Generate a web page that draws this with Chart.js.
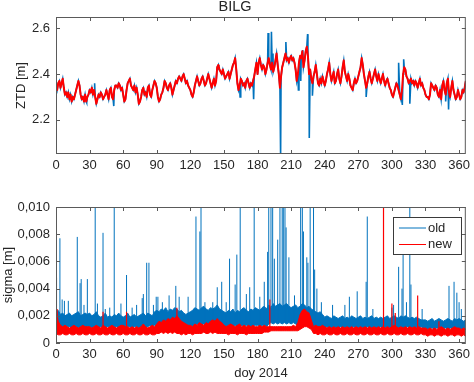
<!DOCTYPE html>
<html>
<head>
<meta charset="utf-8">
<script src="https://cdn.jsdelivr.net/npm/chart.js@4.4.1/dist/chart.umd.min.js"></script>
<style>
  html, body { margin: 0; padding: 0; background: #fff; }
  canvas { display: block; }
</style>
</head>
<body>
<canvas id="ztd" width="474" height="190"></canvas>
<canvas id="sigma" width="474" height="192"></canvas>
<script>
// ---- data ----
const stationName = 'BILG';
const seriesNames = ['old', 'new'];
const seriesColors = ['#0072BD', '#FF0000'];
const xTicks = [0, 30, 60, 90, 120, 150, 180, 210, 240, 270, 300, 330, 360];
const ztdTicks = [2.2, 2.4, 2.6];
const sigmaTicks = [0, 0.002, 0.004, 0.006, 0.008, 0.010];
const sigmaTickLabels = ['0', '0,002', '0,004', '0,006', '0,008', '0,010'];

// ZTD [m], new solution, one value per doy 0..366
const ztdNew = [
  2.35,2.33,2.36,2.37,2.34,2.36,2.38,2.34,2.31,2.32,2.30,2.32,2.29,2.31,2.28,2.30,2.29,2.31,2.33,2.35,2.37,2.35,2.31,2.29,2.30,2.28,2.31,2.28,2.30,2.31,
  2.33,2.32,2.34,2.31,2.33,2.30,2.27,2.29,2.31,2.30,2.32,2.31,2.29,2.30,2.31,2.33,2.31,2.29,2.33,2.34,2.30,2.29,2.33,2.35,2.35,2.34,2.36,2.35,2.33,2.34,
  2.31,2.28,2.29,2.33,2.36,2.37,2.38,2.35,2.34,2.33,2.35,2.32,2.34,2.31,2.27,2.28,2.30,2.33,2.34,2.31,2.32,2.30,2.34,2.35,2.31,2.30,2.33,2.35,2.37,2.36,
  2.34,2.30,2.28,2.29,2.31,2.32,2.34,2.37,2.36,2.34,2.33,2.35,2.36,2.34,2.31,2.33,2.35,2.37,2.36,2.38,2.39,2.38,2.37,2.39,2.40,2.38,2.36,2.37,2.35,2.34,
  2.33,2.31,2.30,2.32,2.35,2.37,2.39,2.37,2.35,2.36,2.38,2.39,2.37,2.35,2.36,2.38,2.40,2.38,2.36,2.34,2.36,2.38,2.35,2.37,2.43,2.44,2.42,2.41,2.40,2.42,
  2.40,2.38,2.39,2.40,2.41,2.38,2.40,2.42,2.44,2.45,2.47,2.42,2.36,2.33,2.35,2.38,2.37,2.35,2.36,2.34,2.37,2.38,2.36,2.34,2.36,2.35,2.37,2.39,2.42,2.45,
  2.40,2.45,2.47,2.44,2.42,2.44,2.43,2.40,2.42,2.45,2.47,2.44,2.42,2.45,2.41,2.43,2.46,2.49,2.44,2.40,2.34,2.39,2.43,2.45,2.47,2.49,2.46,2.47,2.45,2.47,
  2.48,2.46,2.47,2.45,2.42,2.37,2.40,2.45,2.48,2.47,2.50,2.43,2.46,2.50,2.52,2.48,2.40,2.42,2.38,2.36,2.39,2.41,2.44,2.40,2.36,2.35,2.38,2.36,2.39,2.37,
  2.35,2.37,2.40,2.42,2.45,2.40,2.37,2.39,2.41,2.36,2.37,2.40,2.42,2.38,2.36,2.39,2.43,2.46,2.41,2.39,2.37,2.40,2.38,2.35,2.34,2.33,2.36,2.38,2.36,2.37,
  2.39,2.41,2.43,2.47,2.44,2.40,2.37,2.34,2.36,2.39,2.41,2.38,2.36,2.38,2.40,2.42,2.39,2.37,2.40,2.38,2.36,2.38,2.40,2.37,2.35,2.37,2.38,2.36,2.34,2.33,
  2.31,2.30,2.32,2.34,2.36,2.35,2.33,2.31,2.29,2.33,2.40,2.43,2.42,2.39,2.38,2.36,2.37,2.38,2.36,2.37,2.35,2.37,2.36,2.34,2.36,2.38,2.35,2.36,2.34,2.33,
  2.31,2.30,2.30,2.29,2.31,2.36,2.35,2.34,2.33,2.35,2.34,2.31,2.30,2.33,2.29,2.35,2.37,2.33,2.31,2.36,2.38,2.32,2.30,2.34,2.37,2.33,2.31,2.29,2.30,2.33,
  2.31,2.29,2.30,2.33,2.32,2.34,2.37
];
// ZTD [m], old solution: where it departs from the new one [doy, value]
const ztdOldOutliers = [
  [27.4, 2.275], [34.5, 2.36], [51.6, 2.26], [145.5, 2.42], [164.4, 2.30], [176.5, 2.29],
  [189.4, 2.58], [192.4, 2.585], [193.8, 2.49], [200.6, 2.04], [205.3, 2.54], [216.5, 2.33],
  [218.6, 2.37], [220.4, 2.505], [224.7, 2.575], [226.2, 2.12], [229.0, 2.305], [277.0, 2.30],
  [306.0, 2.45], [309.3, 2.265], [310.5, 2.465], [316.0, 2.27], [348.0, 2.28], [350.6, 2.245]
];

// sigma [mm], band of the dense series sampled every 2 days (doy 0..366)
const sigmaStep = 2;
const sigmaOldHi = [
  2.3,2.4,2.1,2.2,2.0,2.1,2.2,2.0,2.1,2.2,2.3,2.0,2.1,2.2,2.1,
  2.2,2.0,2.1,2.3,2.0,1.9,2.0,2.2,1.9,2.0,1.9,2.1,2.0,2.2,2.0,
  1.9,2.0,2.2,1.9,2.0,2.1,1.9,2.0,2.1,2.2,2.0,2.2,2.1,2.0,2.3,
  2.4,2.3,2.5,2.4,2.6,2.3,2.5,2.4,2.6,2.5,2.3,2.4,2.2,2.1,2.2,
  2.3,2.4,2.6,2.5,2.4,2.6,2.7,2.5,2.4,2.6,2.5,2.6,2.8,2.5,2.4,
  2.3,2.2,2.4,2.3,2.5,2.2,2.4,2.3,2.5,2.6,2.4,2.3,2.5,2.4,2.6,
  2.5,2.4,2.6,2.7,2.5,2.8,2.6,2.9,2.7,2.8,2.9,2.7,2.8,2.9,2.7,
  2.6,2.7,2.8,2.6,2.7,2.9,2.8,2.6,2.7,2.5,2.4,2.3,2.2,2.3,2.1,
  1.9,2.0,1.9,1.8,2.0,1.9,1.8,1.9,2.0,1.8,1.9,1.8,2.0,1.9,1.8,
  1.9,2.0,1.8,1.9,1.8,1.9,2.0,1.8,1.9,1.8,1.9,1.8,1.9,2.0,1.8,
  1.9,2.0,1.9,1.8,2.0,1.9,2.0,1.9,1.8,1.9,1.8,1.9,1.8,1.7,1.7,
  1.7,1.6,1.7,1.8,1.6,1.7,1.8,1.7,1.6,1.7,1.8,1.7,1.6,1.8,1.7,
  1.8,1.7,1.6,1.7
];
const sigmaOldLo = [
  1.2,1.1,1.2,1.2,1.1,1.2,1.2,1.1,1.2,1.2,1.1,1.2,1.2,1.1,1.2,
  1.2,1.1,1.2,1.2,1.1,1.2,1.2,1.1,1.2,1.2,1.1,1.2,1.2,1.1,1.2,
  1.2,1.1,1.2,1.2,1.1,1.2,1.2,1.1,1.2,1.2,1.1,1.2,1.3,1.2,1.3,
  1.3,1.4,1.3,1.4,1.3,1.4,1.3,1.4,1.3,1.2,1.3,1.2,1.2,1.3,1.2,
  1.3,1.2,1.3,1.4,1.3,1.3,1.4,1.3,1.3,1.4,1.3,1.4,1.4,1.3,1.3,
  1.2,1.2,1.3,1.2,1.2,1.3,1.2,1.2,1.3,1.2,1.3,1.2,1.2,1.3,1.3,
  1.3,1.2,1.3,1.3,1.2,1.4,1.5,1.4,1.5,1.4,1.5,1.4,1.5,1.4,1.5,
  1.4,1.5,1.4,1.3,1.3,1.4,1.3,1.3,1.2,1.3,1.2,1.2,1.1,1.2,1.1,
  1.1,1.2,1.1,1.1,1.2,1.1,1.1,1.2,1.1,1.1,1.2,1.1,1.1,1.2,1.1,
  1.1,1.2,1.1,1.1,1.2,1.1,1.1,1.2,1.1,1.1,1.2,1.1,1.1,1.2,1.1,
  1.1,1.2,1.1,1.1,1.2,1.1,1.1,1.2,1.1,1.1,1.2,1.1,1.1,1.2,1.1,
  1.1,1.0,1.1,1.1,1.0,1.1,1.1,1.0,1.1,1.1,1.0,1.1,1.1,1.0,1.1,
  1.1,1.0,1.1,1.0
];
const sigmaNewHi = [
  2.5,1.6,1.3,1.2,1.3,1.2,1.1,1.2,1.3,1.2,1.1,1.2,1.3,1.2,1.2,
  1.2,1.1,1.2,1.3,1.2,1.1,1.3,1.2,1.1,1.2,1.3,1.2,1.1,1.2,1.3,
  1.3,1.2,1.2,1.1,1.2,1.1,1.2,1.1,1.2,1.4,1.2,1.1,1.2,1.3,1.2,
  1.4,1.6,1.5,1.7,1.6,1.8,1.7,1.9,1.8,2.0,1.8,1.6,1.5,1.4,1.3,
  1.3,1.2,1.4,1.3,1.5,1.4,1.3,1.5,1.4,1.6,1.7,1.6,1.8,1.6,1.5,
  1.3,1.2,1.3,1.4,1.3,1.2,1.3,1.4,1.2,1.3,1.2,1.3,1.2,1.3,1.2,
  1.2,1.3,1.2,1.3,1.2,1.2,1.2,1.2,1.2,1.2,1.2,1.2,1.2,1.2,1.2,
  1.2,1.3,1.2,1.5,2.1,2.4,2.5,2.3,2.2,1.7,1.2,1.3,1.2,1.2,1.3,
  1.2,1.1,1.2,1.1,1.2,1.1,1.2,1.1,1.2,1.1,1.2,1.1,1.2,1.1,1.2,
  1.1,1.2,1.1,1.2,1.1,1.2,1.1,1.2,1.1,1.2,1.1,1.2,1.1,1.2,1.1,
  1.2,1.3,1.2,1.1,1.2,1.1,1.2,1.1,1.2,1.1,1.2,1.1,1.2,1.1,1.1,
  1.1,1.0,1.1,1.0,1.1,1.0,1.1,1.2,1.1,1.0,1.1,1.0,1.1,1.2,1.1,
  1.1,1.0,1.1,1.0
];
const sigmaNewLo = [
  0.7,0.6,0.6,0.7,0.6,0.6,0.7,0.6,0.6,0.7,0.6,0.6,0.7,0.6,0.6,
  0.7,0.6,0.6,0.7,0.6,0.6,0.7,0.6,0.6,0.7,0.6,0.6,0.7,0.6,0.6,
  0.7,0.6,0.6,0.7,0.6,0.6,0.7,0.6,0.6,0.7,0.6,0.6,0.7,0.6,0.6,
  0.7,0.7,0.8,0.7,0.8,0.7,0.8,0.7,0.8,0.7,0.7,0.6,0.7,0.6,0.7,
  0.7,0.6,0.7,0.7,0.7,0.7,0.8,0.7,0.7,0.8,0.7,0.8,0.7,0.7,0.7,
  0.7,0.7,0.6,0.7,0.7,0.7,0.6,0.7,0.7,0.7,0.6,0.7,0.7,0.7,0.7,
  0.7,0.7,0.7,0.8,0.8,0.8,0.9,0.9,0.9,0.9,0.9,0.9,0.9,0.9,0.9,
  0.9,0.9,0.9,0.9,1.0,1.1,1.2,1.2,1.1,1.0,0.7,0.7,0.6,0.7,0.6,
  0.6,0.7,0.6,0.6,0.7,0.6,0.6,0.7,0.6,0.6,0.7,0.6,0.6,0.7,0.6,
  0.6,0.7,0.6,0.6,0.7,0.6,0.6,0.7,0.6,0.6,0.7,0.6,0.6,0.7,0.6,
  0.6,0.7,0.6,0.6,0.7,0.6,0.6,0.7,0.6,0.6,0.7,0.6,0.6,0.7,0.6,
  0.6,0.5,0.6,0.6,0.5,0.6,0.6,0.5,0.6,0.6,0.5,0.6,0.6,0.5,0.6,
  0.6,0.5,0.6,0.5
];
// isolated peaks [doy, sigma mm]
const sigmaOldPeaks = [
  [0.5,4.8],[3.5,7.7],[5.5,3.2],[7.5,3.1],[11,3.1],[19,7.8],[21.5,4.4],[22.5,4.7],[25,2.8],[28,4.7],
  [35,10.5],[37,2.9],[42,8.1],[44,2.5],[48,2.6],[52,10.5],[58,2.9],[63,5.0],[68,2.6],[72,2.8],
  [77,3.3],[78,3.6],[81,5.9],[83,5.9],[87,2.8],[89.5,3.4],[91,3.4],[95,3.0],[101,3.5],[107,4.2],
  [110,3.4],[118,3.4],[125,9.3],[128.5,8.2],[129.5,10.5],[133,3.0],[140,3.0],[144,4.1],[148,4.5],[152,3.0],
  [155,6.2],[160,4.3],[161.5,6.5],[164.5,10.5],[170,3.6],[173,4.1],[177,10.5],[182,3.4],[186,4.5],[189,6.7],
  [190,10.5],[192,10.5],[193.5,10.5],[195,6.2],[198,7.6],[200,10.5],[202,10.5],[203,10.5],[204.5,10.5],[205.5,8.5],
  [208,6.3],[213,3.5],[218.5,10.5],[220,10.5],[221,8.2],[224,6.3],[225,5.9],[227,10.5],[230,10.5],[231,5.4],
  [233,4.0],[237,3.0],[247,2.8],[258,2.8],[262,3.4],[269,3.8],[277,4.5],[278,9.3],[283,2.5],[300,2.6],
  [301.5,2.8],[306,5.6],[309,4.0],[310,6.6],[313,3.0],[316,10.5],[317,4.3],[327,2.5],[351,4.2],[355.5,4.5],
  [358,3.7],[360,3.0],[362,2.5]
];
const sigmaNewPeaks = [
  [0,4.0],[1,2.5],[42,2.3],[63,2.3],[108,2.6],[191,3.2],[292.5,10.5],[300,2.9],[303,2.2],[323,3.5],[342,1.6]
];

// ---- drawing ----
Chart.defaults.font.family = '"Liberation Sans", Arial, Helvetica, sans-serif';
Chart.defaults.font.size = 13;
Chart.defaults.color = '#262626';

const boxTicks = {
  id: 'boxTicks',
  afterDraw(chart) {
    const { ctx, chartArea: a, scales: { x, y } } = chart;
    ctx.save();
    ctx.strokeStyle = '#5a5a5a';
    ctx.lineWidth = 1;
    ctx.beginPath();
    x.ticks.forEach(t => {
      const px = Math.round(x.getPixelForValue(t.value)) + 0.5;
      ctx.moveTo(px, a.bottom); ctx.lineTo(px, a.bottom - 4);
      ctx.moveTo(px, a.top); ctx.lineTo(px, a.top + 4);
    });
    y.ticks.forEach(t => {
      const py = Math.round(y.getPixelForValue(t.value)) + 0.5;
      ctx.moveTo(a.left, py); ctx.lineTo(a.left + 4, py);
      ctx.moveTo(a.right, py); ctx.lineTo(a.right - 4, py);
    });
    ctx.stroke();
    ctx.strokeRect(a.left + 0.5, a.top + 0.5, a.right - a.left - 1, a.bottom - a.top - 1);
    ctx.restore();
  }
};

const legendBox = {
  id: 'legendBox',
  afterDraw(chart) {
    const { ctx, chartArea: a } = chart;
    const x0 = Math.round(a.right - 73), y0 = Math.round(a.top + 10), w = 68, h = 37;
    ctx.save();
    ctx.fillStyle = '#fff';
    ctx.fillRect(x0, y0, w, h);
    ctx.strokeStyle = '#3a3a3a';
    ctx.lineWidth = 1;
    ctx.strokeRect(x0 + 0.5, y0 + 0.5, w, h);
    ctx.font = '13px "Liberation Sans", Arial, sans-serif';
    ctx.textBaseline = 'middle';
    seriesNames.forEach((name, i) => {
      const ly = y0 + 11 + i * 16.5;
      ctx.strokeStyle = seriesColors[i];
      ctx.beginPath(); ctx.moveTo(x0 + 6, ly); ctx.lineTo(x0 + 33, ly); ctx.stroke();
      ctx.fillStyle = '#262626';
      ctx.fillText(name, x0 + 35, ly);
    });
    ctx.restore();
  }
};

function xScale(height, title) {
  return {
    type: 'linear', min: 0, max: 366,
    afterBuildTicks: s => { s.ticks = xTicks.map(v => ({ value: v })); },
    afterFit: s => { s.height = height; },
    ticks: { padding: 4, maxRotation: 0, autoSkip: false, font: { size: 13 } },
    grid: { display: false, drawTicks: false },
    border: { display: false },
    title: title ? { display: true, text: title, font: { size: 13 }, padding: { top: 0, bottom: 1 } } : { display: false }
  };
}

const common = {
  responsive: false,
  animation: false,
  events: [],
  elements: { point: { radius: 0 }, line: { tension: 0 } },
  plugins: { legend: { display: false }, tooltip: { enabled: false } }
};

const ztdNewPts = ztdNew.map((v, i) => ({ x: i, y: v }));
const ztdOldPts = ztdNewPts.concat(ztdOldOutliers.map(([d, v]) => ({ x: d, y: v })))
  .sort((p, q) => p.x - q.x);

new Chart(document.getElementById('ztd'), {
  type: 'line',
  data: {
    datasets: [
      { label: seriesNames[1], data: ztdNewPts, borderColor: seriesColors[1], borderWidth: 2, borderJoinStyle: 'round', order: 0, clip: 0 },
      { label: seriesNames[0], data: ztdOldPts, borderColor: seriesColors[0], borderWidth: 1.6, order: 1, clip: 0 }
    ]
  },
  options: {
    ...common,
    layout: { padding: { left: 0, right: 4, top: 0, bottom: 0 } },
    plugins: {
      ...common.plugins,
      title: { display: true, text: stationName, color: '#262626', font: { size: 14.5, weight: 'normal', lineHeight: 1 }, padding: { top: 0, bottom: 2.5 } }
    },
    scales: {
      x: xScale(36),
      y: {
        type: 'linear', min: 2.05, max: 2.65,
        afterBuildTicks: s => { s.ticks = ztdTicks.map(v => ({ value: v })); },
        afterFit: s => { s.width = 56; },
        ticks: { padding: 6, callback: v => v.toFixed(1) },
        grid: { display: false, drawTicks: false },
        border: { display: false },
        title: { display: true, text: 'ZTD [m]', font: { size: 13 }, padding: { top: 14 } }
      }
    }
  },
  plugins: [boxTicks]
});

const mm = v => v / 1000;
const band = arr => arr.map((v, i) => ({ x: i * sigmaStep, y: mm(v) }));
const peaks = (list, from) => list.flatMap(([d, v]) => [{ x: d, y: mm(from) }, { x: d, y: mm(v) }, { x: d, y: null }]);

new Chart(document.getElementById('sigma'), {
  type: 'line',
  data: {
    datasets: [
      { label: seriesNames[0], data: band(sigmaOldHi), borderColor: seriesColors[0], backgroundColor: seriesColors[0], borderWidth: 1, fill: '+1', order: 3, clip: 0 },
      { data: band(sigmaOldLo), borderColor: seriesColors[0], borderWidth: 1, fill: false, order: 3, clip: 0 },
      { data: peaks(sigmaOldPeaks, 1.5), borderColor: seriesColors[0], borderWidth: 1, fill: false, order: 2, clip: 0 },
      { label: seriesNames[1], data: band(sigmaNewHi), borderColor: seriesColors[1], backgroundColor: seriesColors[1], borderWidth: 1, fill: '+1', order: 1, clip: 0 },
      { data: band(sigmaNewLo), borderColor: seriesColors[1], borderWidth: 1, fill: false, order: 1, clip: 0 },
      { data: peaks(sigmaNewPeaks, 0.9), borderColor: seriesColors[1], borderWidth: 1.2, fill: false, order: 0, clip: 0 }
    ]
  },
  options: {
    ...common,
    layout: { padding: { left: 0, right: 4, top: 17, bottom: 0 } },
    scales: {
      x: xScale(39, 'doy 2014'),
      y: {
        type: 'linear', min: 0, max: 0.010,
        afterBuildTicks: s => { s.ticks = sigmaTicks.map(v => ({ value: v })); },
        afterFit: s => { s.width = 56; },
        ticks: { padding: 6, callback: (v, i) => sigmaTickLabels[i] },
        grid: { display: false, drawTicks: false },
        border: { display: false },
        title: { display: true, text: 'sigma [m]', font: { size: 13 }, padding: { top: 1 } }
      }
    }
  },
  plugins: [boxTicks, legendBox]
});
</script>
</body>
</html>
